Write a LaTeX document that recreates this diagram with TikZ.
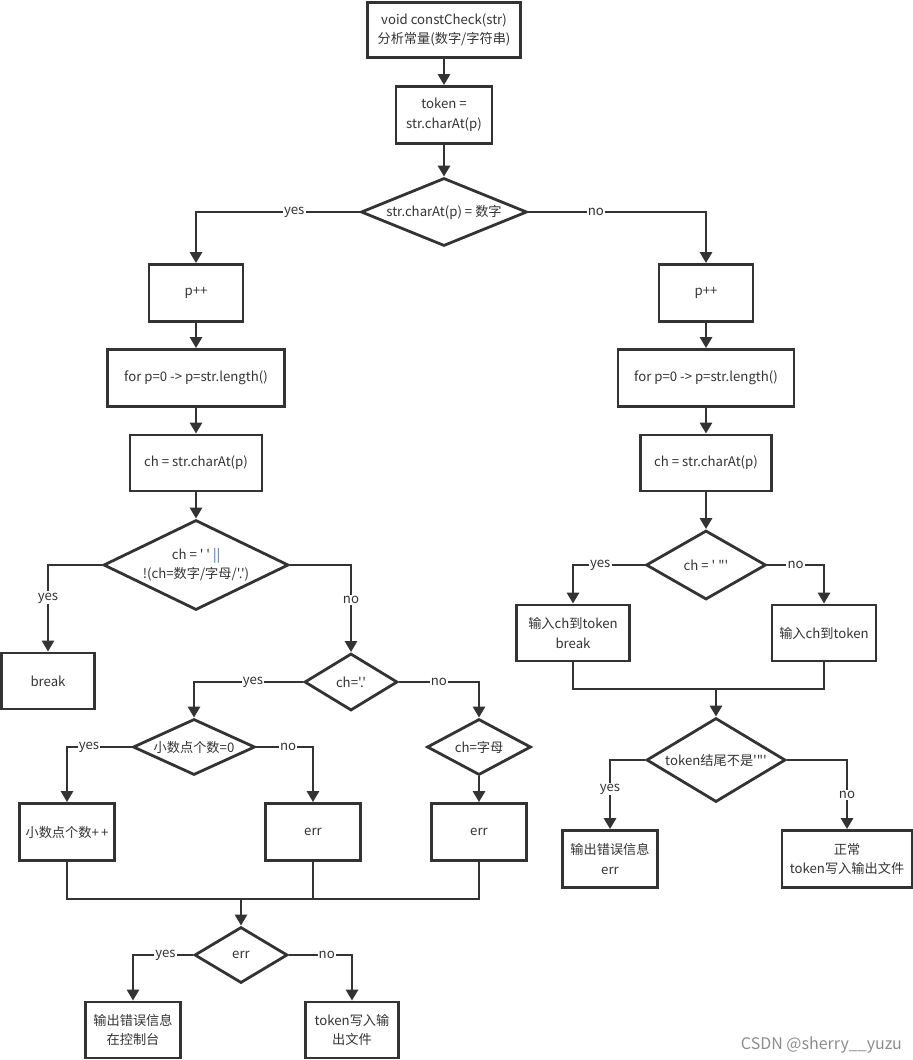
\documentclass[tikz,border=0pt]{standalone}
\usepackage{fontspec}
\usepackage{tikz}
\usepackage{xcolor}
\usetikzlibrary{shapes.geometric, arrows.meta}

\newfontfamily\cjk{Noto Sans CJK SC}
\definecolor{lc}{RGB}{51,51,51}
\definecolor{qblue}{RGB}{45,95,200}

\tikzset{
  every node/.style={font=\cjk\fontsize{6.6}{9.75}\selectfont, text=lc},
  box/.style 2 args={draw=lc, line width=1.4pt, align=center, inner sep=1pt,
    minimum width=#1*0.5pt, minimum height=#2*0.5pt},
  dia/.style n args={3}{draw=lc, line width=1.4pt, diamond, aspect=#3, align=center,
    inner sep=0pt, minimum width=#1*0.5pt, minimum height=#2*0.5pt},
  ln/.style={draw=lc, line width=1.4pt},
  arr/.style={ln, -{Triangle[length=5.5pt, width=6pt]}},
  lbl/.style={fill=white, inner sep=0.6pt},
}

\begin{document}
\begin{tikzpicture}[x=0.5pt, y=-0.5pt]
    \useasboundingbox (0,0) rectangle (912,1060);

    % entry
    \node[box={153}{55}] (start) at (444,30) {void constCheck(str)\\分析常量(数字/字符串)};
    \node[box={96}{57}] (tok) at (444,115) {token =\\str.charAt(p)};
    \node[dia={166}{68}{2.44}] (isnum) at (444,212) {str.charAt(p) = 数字};

    % number branch
    \node[box={94}{57}] (pL) at (196,293) {p++};
    \node[box={177}{57}] (forL) at (196,378) {for p=0 -> p=str.length()};
    \node[box={132}{56}] (chL) at (196,463) {ch = str.charAt(p)};
    \node[dia={185}{90}{2.06}] (sep) at (196,565) {ch = ' ' \textcolor{qblue}{||}\\!(ch=数字/字母/'.')};
    \node[box={93}{56}] (brk) at (48,681) {break};
    \node[dia={93}{57}{1.63}] (dot) at (351,682) {ch='.'};
    \node[dia={122}{56}{2.18}] (cnt) at (194,747) {小数点个数=0};
    \node[dia={104}{56}{1.86}] (alpha) at (479,747) {ch=字母};
    \node[box={95}{57}] (inc) at (67,832) {小数点个数+\,+};
    \node[box={95}{57}] (errA) at (313,832) {err};
    \node[box={95}{57}] (errB) at (479,832) {err};
    \coordinate (mL) at (241,899);
    \node[dia={93}{56}{1.66}] (iserr) at (241,955) {err};
    \node[box={95}{56}] (outE) at (133,1030) {输出错误信息\\在控制台};
    \node[box={93}{56}] (outW) at (352,1030) {token写入输\\出文件};

    % string branch
    \node[box={94}{57}] (pR) at (706,293) {p++};
    \node[box={176}{57}] (forR) at (706,378) {for p=0 -> p=str.length()};
    \node[box={131}{56}] (chR) at (706,463) {ch = str.charAt(p)};
    \node[dia={120}{69}{1.74}] (quo) at (706,565) {ch = ' "'};
    \node[box={113}{56}] (inB) at (573,633) {输入ch到token\\break};
    \node[box={104}{56}] (inC) at (824,633) {输入ch到token};
    \coordinate (mR) at (716,689);
    \node[dia={139}{84}{1.65}] (tail) at (716,760) {token结尾不是'"'};
    \node[box={95}{57}] (errR) at (610,859) {输出错误信息\\err};
    \node[box={130}{57}] (okR) at (847,859) {正常\\token写入输出文件};

    \node[anchor=east, font=\cjk\fontsize{8}{9}\selectfont, text=black!45] (wm) at (909,1045) {CSDN @sherry\_\_yuzu};

    % connectors
    \draw[arr] (start) -- (tok);
    \draw[arr] (tok) -- (isnum);
    \draw[arr] (isnum.west) -| node[lbl, pos=0.2] {yes} (pL.north);
    \draw[arr] (isnum.east) -| node[lbl, pos=0.19] {no} (pR.north);

    \draw[arr] (pL) -- (forL);
    \draw[arr] (forL) -- (chL);
    \draw[arr] (chL) -- (sep);
    \draw[arr] (sep.west) -| node[lbl, pos=0.69] {yes} (brk.north);
    \draw[arr] (sep.east) -| node[lbl, pos=0.7] {no} (dot.north);
    \draw[arr] (dot.west) -| node[lbl, pos=0.23] {yes} (cnt.north);
    \draw[arr] (dot.east) -| node[lbl, pos=0.25] {no} (alpha.north);
    \draw[arr] (cnt.west) -| node[lbl, pos=0.33] {yes} (inc.north);
    \draw[arr] (cnt.east) -| node[lbl, pos=0.28] {no} (errA.north);
    \draw[arr] (alpha) -- (errB);
    \draw[ln] (inc.south) |- (mL) -| (errB.south);
    \draw[ln] (errA.south) -- (errA.south |- mL);
    \draw[arr] (mL) -- (iserr);
    \draw[arr] (iserr.west) -| node[lbl, pos=0.23] {yes} (outE.north);
    \draw[arr] (iserr.east) -| node[lbl, pos=0.3] {no} (outW.north);

    \draw[arr] (pR) -- (forR);
    \draw[arr] (forR) -- (chR);
    \draw[arr] (chR) -- (quo);
    \draw[arr] (quo.west) -| node[lbl, pos=0.31] {yes} (inB.north);
    \draw[arr] (quo.east) -| node[lbl, pos=0.25] {no} (inC.north);
    \draw[ln] (inB.south) |- (mR) -| (inC.south);
    \draw[arr] (mR) -- (tail);
    \draw[arr] (tail.west) -| node[lbl, pos=0.71] {yes} (errR.north);
    \draw[arr] (tail.east) -| node[lbl, pos=0.75] {no} (okR.north);
\end{tikzpicture}
\end{document}
